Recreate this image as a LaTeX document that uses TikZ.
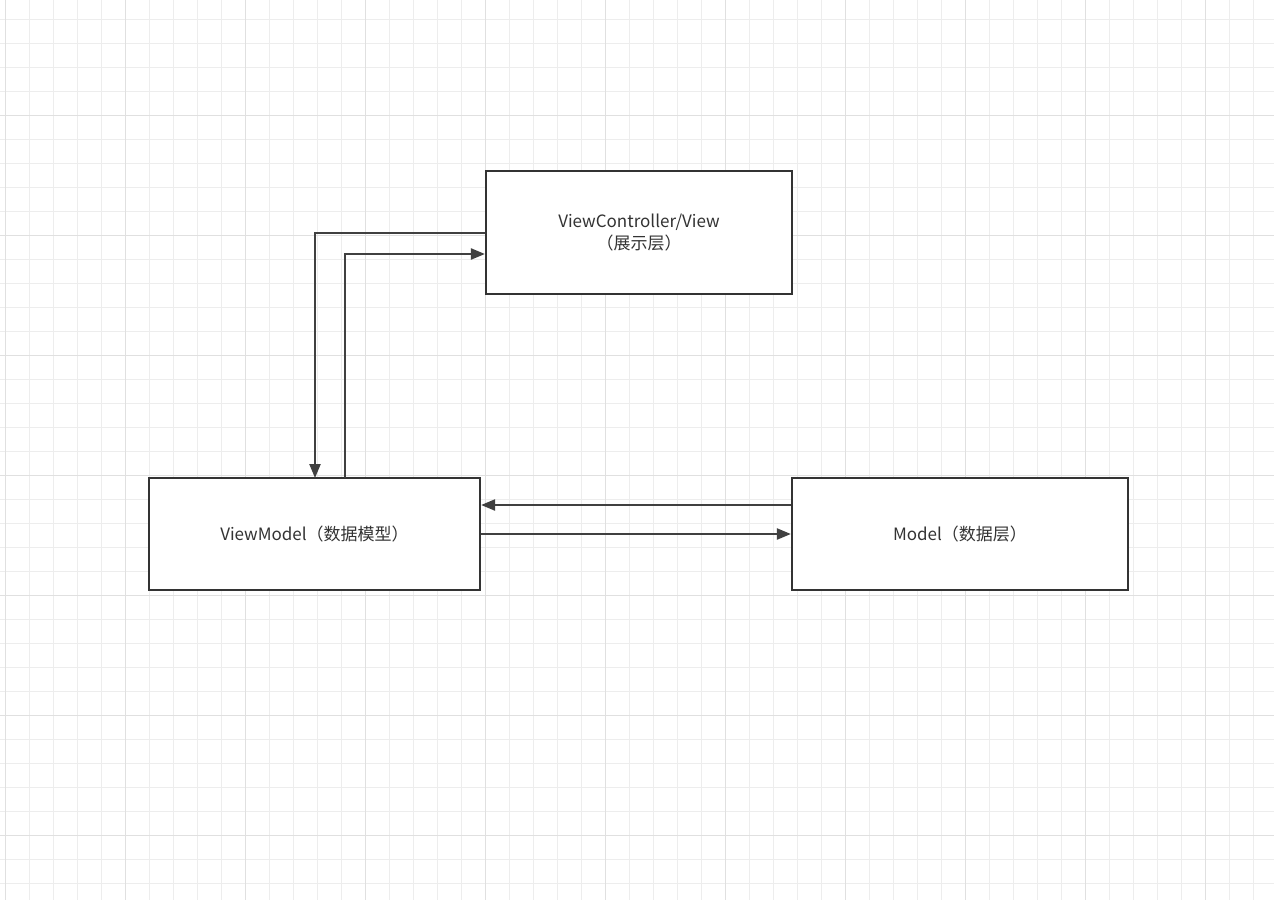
\documentclass[tikz,border=0pt]{standalone}
\usepackage{fontspec}
\setmainfont{Noto Sans CJK SC}
\usetikzlibrary{arrows.meta}
\begin{document}
\begin{tikzpicture}[x=1pt,y=-1pt,
 box/.style={draw=black!80,line width=2.2pt,fill=white,inner sep=0pt,font=\fontsize{17}{22}\selectfont,text=black!80,align=center},
 conn/.style={draw=black!75,line width=2.2pt,-{Triangle[length=14pt,width=11pt]}}]
\fill[white] (0,0) rectangle (1274,900);
\useasboundingbox (0,0) rectangle (1274,900);
\foreach \i in {0,...,53} {\draw[black!7,line width=0.8pt] (5+24*\i,0) -- (5+24*\i,900);}
\foreach \i in {0,...,37} {\draw[black!7,line width=0.8pt] (0,19+24*\i) -- (1274,19+24*\i);}
\foreach \i in {0,...,10} {\draw[black!12,line width=1pt] (5+120*\i,0) -- (5+120*\i,900);}
\foreach \i in {0,...,7} {\draw[black!12,line width=1pt] (0,-5+120*\i) -- (1274,-5+120*\i);}
\node[box,minimum width=306pt,minimum height=123pt] (vc) at (639,232.5) {ViewController/View\\（展示层）};
\node[box,minimum width=331pt,minimum height=112pt] (vm) at (314.5,534) {ViewModel（数据模型）};
\node[box,minimum width=336pt,minimum height=112pt] (m) at (960,534) {Model（数据层）};
\draw[conn] (vc.west|-0,233) -| (315,478);
\draw[conn] (345,478) |- (vc.west|-0,254);
\draw[conn] (m.west|-0,505) -- (vm.east|-0,505);
\draw[conn] (vm.east|-0,534) -- (m.west|-0,534);
\end{tikzpicture}
\end{document}
